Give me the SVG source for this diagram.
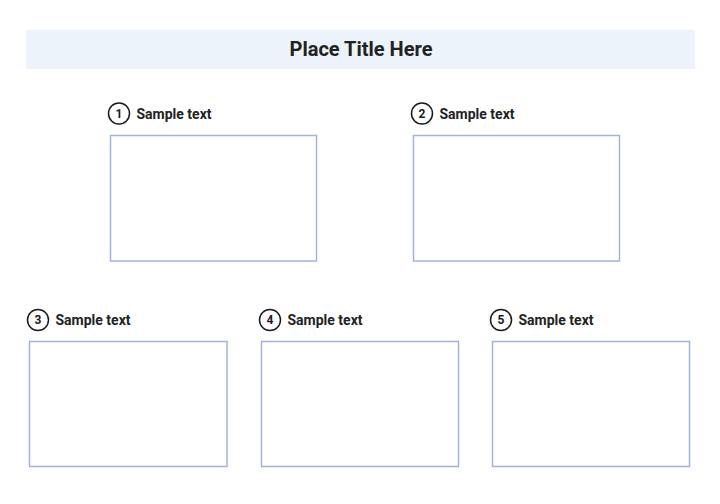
<svg xmlns="http://www.w3.org/2000/svg" width="720" height="504" viewBox="0 0 720 504">
<style>
.box{fill:#fff;stroke:#a1b4da;stroke-width:1.5}
.num{fill:#fff;stroke:#1a1a1a;stroke-width:1.5}
.numt{font-family:Roboto,"Liberation Sans",sans-serif;font-size:12px;font-weight:bold;fill:#1a1a1a;text-anchor:middle}
.lbl{font-family:Roboto,"Liberation Sans",sans-serif;font-size:14px;font-weight:bold;fill:#222}
.title{font-family:Roboto,"Liberation Sans",sans-serif;font-size:20px;font-weight:bold;fill:#222;text-anchor:middle}
</style>
<rect width="720" height="504" fill="#fff"/>
<g id="title">
<rect x="26" y="30" width="669" height="39" fill="#edf3fb"/>
<text class="title" x="361" y="56">Place Title Here</text>
</g>
<g id="node1">
<circle class="num" cx="119" cy="113.5" r="10.5"/>
<text class="numt" x="119" y="117.8">1</text>
<text class="lbl" x="136.5" y="118.5">Sample text</text>
<rect class="box" x="110.5" y="135.5" width="206" height="125.5"/>
</g>
<g id="node2">
<circle class="num" cx="422" cy="113.5" r="10.5"/>
<text class="numt" x="422" y="117.8">2</text>
<text class="lbl" x="439.5" y="118.5">Sample text</text>
<rect class="box" x="413.5" y="135.5" width="206" height="125.5"/>
</g>
<g id="node3">
<circle class="num" cx="38" cy="320" r="10.5"/>
<text class="numt" x="38" y="324.3">3</text>
<text class="lbl" x="55.5" y="325">Sample text</text>
<rect class="box" x="29.5" y="341.5" width="197.5" height="125"/>
</g>
<g id="node4">
<circle class="num" cx="270" cy="320" r="10.5"/>
<text class="numt" x="270" y="324.3">4</text>
<text class="lbl" x="287.5" y="325">Sample text</text>
<rect class="box" x="261.5" y="341.5" width="197" height="125"/>
</g>
<g id="node5">
<circle class="num" cx="501" cy="320" r="10.5"/>
<text class="numt" x="501" y="324.3">5</text>
<text class="lbl" x="518.5" y="325">Sample text</text>
<rect class="box" x="492.5" y="341.5" width="197" height="125"/>
</g>
<g id="connectors"></g>
</svg>
